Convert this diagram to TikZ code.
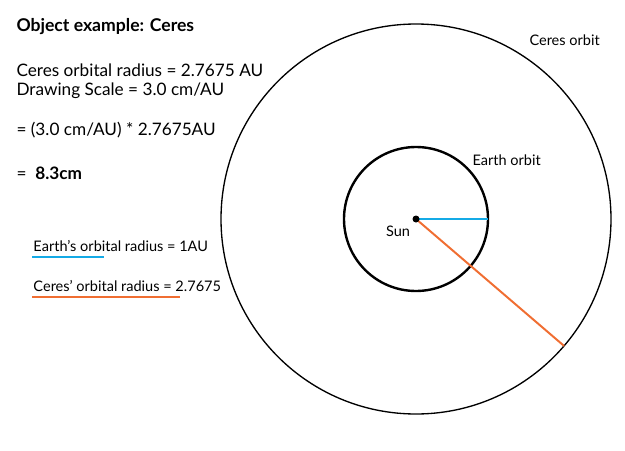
\documentclass[tikz,border=0pt]{standalone}
\usepackage{fontspec}
\setmainfont{Lato}
\definecolor{earthblue}{RGB}{20,170,230}
\definecolor{ceresorange}{RGB}{240,110,50}
\tikzset{every picture/.style={line width=0.75pt}}

\begin{document}
\begin{tikzpicture}[x=0.75pt,y=0.75pt,yscale=-1,xscale=1,
  bigtext/.style={anchor=west,inner sep=0.75pt,font=\fontsize{12.9}{15}\selectfont},
  smalltext/.style={anchor=west,inner sep=0.75pt,font=\fontsize{10.9}{13}\selectfont},
  orbit/.style={draw=black,line width=1.8},
  thinorbit/.style={draw=black,line width=1},
  radiusline/.style={line width=1.5}]
\useasboundingbox (0,0) rectangle (625,450);

%Sun and orbits
\coordinate (sun) at (416,219);
\draw [orbit] (sun) circle [radius=72];
\draw [thinorbit] (sun) circle [radius=195];
\coordinate (earthpt) at ([shift={(0:72)}]sun);
\coordinate (cerespt) at ([shift={(40.6:195)}]sun);
%Radius lines
\draw [radiusline,color=earthblue] (sun) -- (earthpt);
\draw [radiusline,color=ceresorange] (sun) -- (cerespt);
\fill (sun) circle [radius=3.5];

% Text Node
\draw (15,27) node (title) [anchor=west] [inner sep=0.75pt] [font=\bfseries\fontsize{13.2}{15}\selectfont] {Object example: Ceres};
% Text Node
\draw (15,70) node (radius) [bigtext] {Ceres orbital radius = 2.7675 AU};
% Text Node
\draw (15,91) node (scale) [bigtext] {Drawing Scale = 3.0 cm/AU};
% Text Node
\draw (15,130) node (product) [bigtext] {= (3.0 cm/AU) * 2.7675AU};
% Text Node
\draw (15,173) node (result) [bigtext] {=\ \ \textbf{8.3cm}};
% Text Node
\draw (32,246) node (earthlbl) [smalltext] {Earth’s orbital radius = 1AU};
% Text Node
\draw (32,286) node (cereslbl) [smalltext] {Ceres’ orbital radius = 2.7675};
% Text Node
\draw (398,231) node (sunlbl) [inner sep=0.75pt] [font=\fontsize{10.9}{13}\selectfont] {Sun};
% Text Node
\draw (471,160) node (earthorbit) [smalltext] {Earth orbit};
% Text Node
\draw (528,40) node (ceresorbit) [smalltext] {Ceres orbit};

%Underlines
\draw [radiusline,color=earthblue] ([yshift=3]earthlbl.south west) -- ++(72,0);
\draw [radiusline,color=ceresorange] ([yshift=3]cereslbl.south west) -- ++(148,0);

\end{tikzpicture}
\end{document}
